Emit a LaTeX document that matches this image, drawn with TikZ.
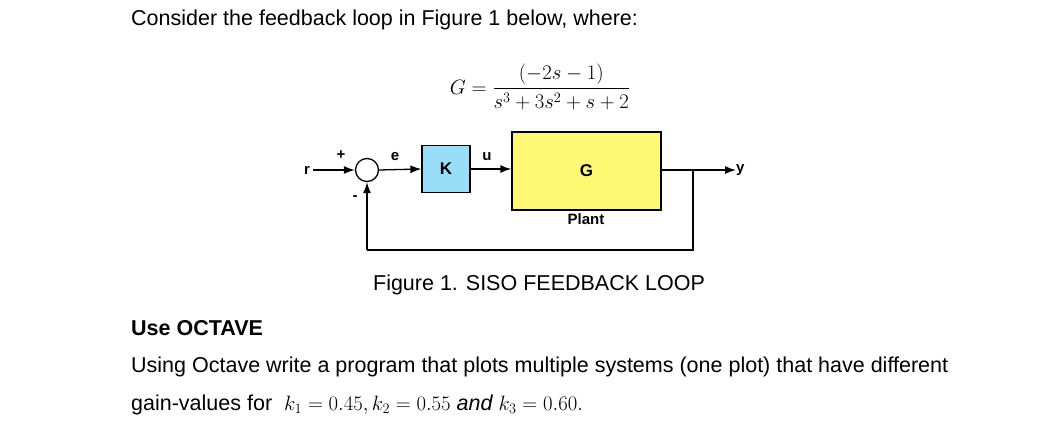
\documentclass[tikz,border=0pt]{standalone}
\usepackage{fontspec}
\setmainfont{Liberation Sans}
\usepackage{amsmath}
\usetikzlibrary{arrows.meta}
\begin{document}
\begin{tikzpicture}[x=1pt,y=-1pt,
  txt/.style={font=\fontsize{21.5}{25}\selectfont,inner sep=0pt},
  lbl/.style={font=\fontsize{15}{18}\selectfont\bfseries,inner sep=0pt},
  blk/.style={draw,line width=1.3pt,inner sep=0pt},
  sig/.style={line width=1.3pt,-{Latex[length=11pt,width=8pt]}},
  ln/.style={line width=1.3pt}]
\useasboundingbox (0,0) rectangle (1054,435);
\node[txt,anchor=west] (t1) at (131,20) {Consider the feedback loop in Figure 1 below, where:};
\node[inner sep=0pt,font=\fontsize{20}{24}\selectfont] (eq) at (540,87) {$G=\dfrac{(-2s-1)}{s^3+3s^2+s+2}$};
\node[draw,circle,line width=1.3pt,minimum size=23pt,inner sep=0pt] (sum) at (367,170) {};
\node[lbl] (r) at (307,170) {r};
\node[lbl] (plus) at (341,155) {+};
\node[lbl] (minus) at (355,198) {-};
\node[lbl] (e) at (395,157) {e};
\node[blk,fill=cyan!40!white,minimum width=48pt,minimum height=47pt] (K) at (446,169) {};
\node[lbl,font=\fontsize{17}{20}\selectfont\bfseries] (Kt) at (K) {K};
\node[lbl] (u) at (487,157) {u};
\node[blk,fill=yellow!55!white,minimum width=149pt,minimum height=78pt] (G) at (586.5,171) {};
\node[lbl,font=\fontsize{17}{20}\selectfont\bfseries] (Gt) at (G) {G};
\node[lbl] (plant) at (586,219) {Plant};
\coordinate (br) at (693,170);
\coordinate (bl) at (693,250);
\coordinate (fl) at (367,250);
\node[lbl,anchor=west] (y) at (736,170) {y};
\draw[sig] (r.east)++(3,0) -- (sum.west);
\draw[sig] (sum.east) -- (K.west);
\draw[sig] (K.east) -- (G.west |- K.east);
\draw[sig] (G.east |- br) -- (y.west);
\draw[ln] (br) -- (bl) -- (fl);
\draw[sig] (fl) -- (sum.south);
\node[txt] (cap) at (539,285) {Figure 1. SISO FEEDBACK LOOP};
\node[txt,anchor=west,font=\fontsize{21.5}{25}\selectfont\bfseries] (oct) at (131,328) {Use OCTAVE};
\node[txt,anchor=west] (p1) at (131,367) {Using Octave write a program that plots multiple systems (one plot) that have different};
\node[txt,anchor=west] (p2) at (131,405) {gain-values for\ \ $k_1=0.45, k_2=0.55\ \mathit{and}\ k_3=0.60.$};
\end{tikzpicture}
\end{document}
